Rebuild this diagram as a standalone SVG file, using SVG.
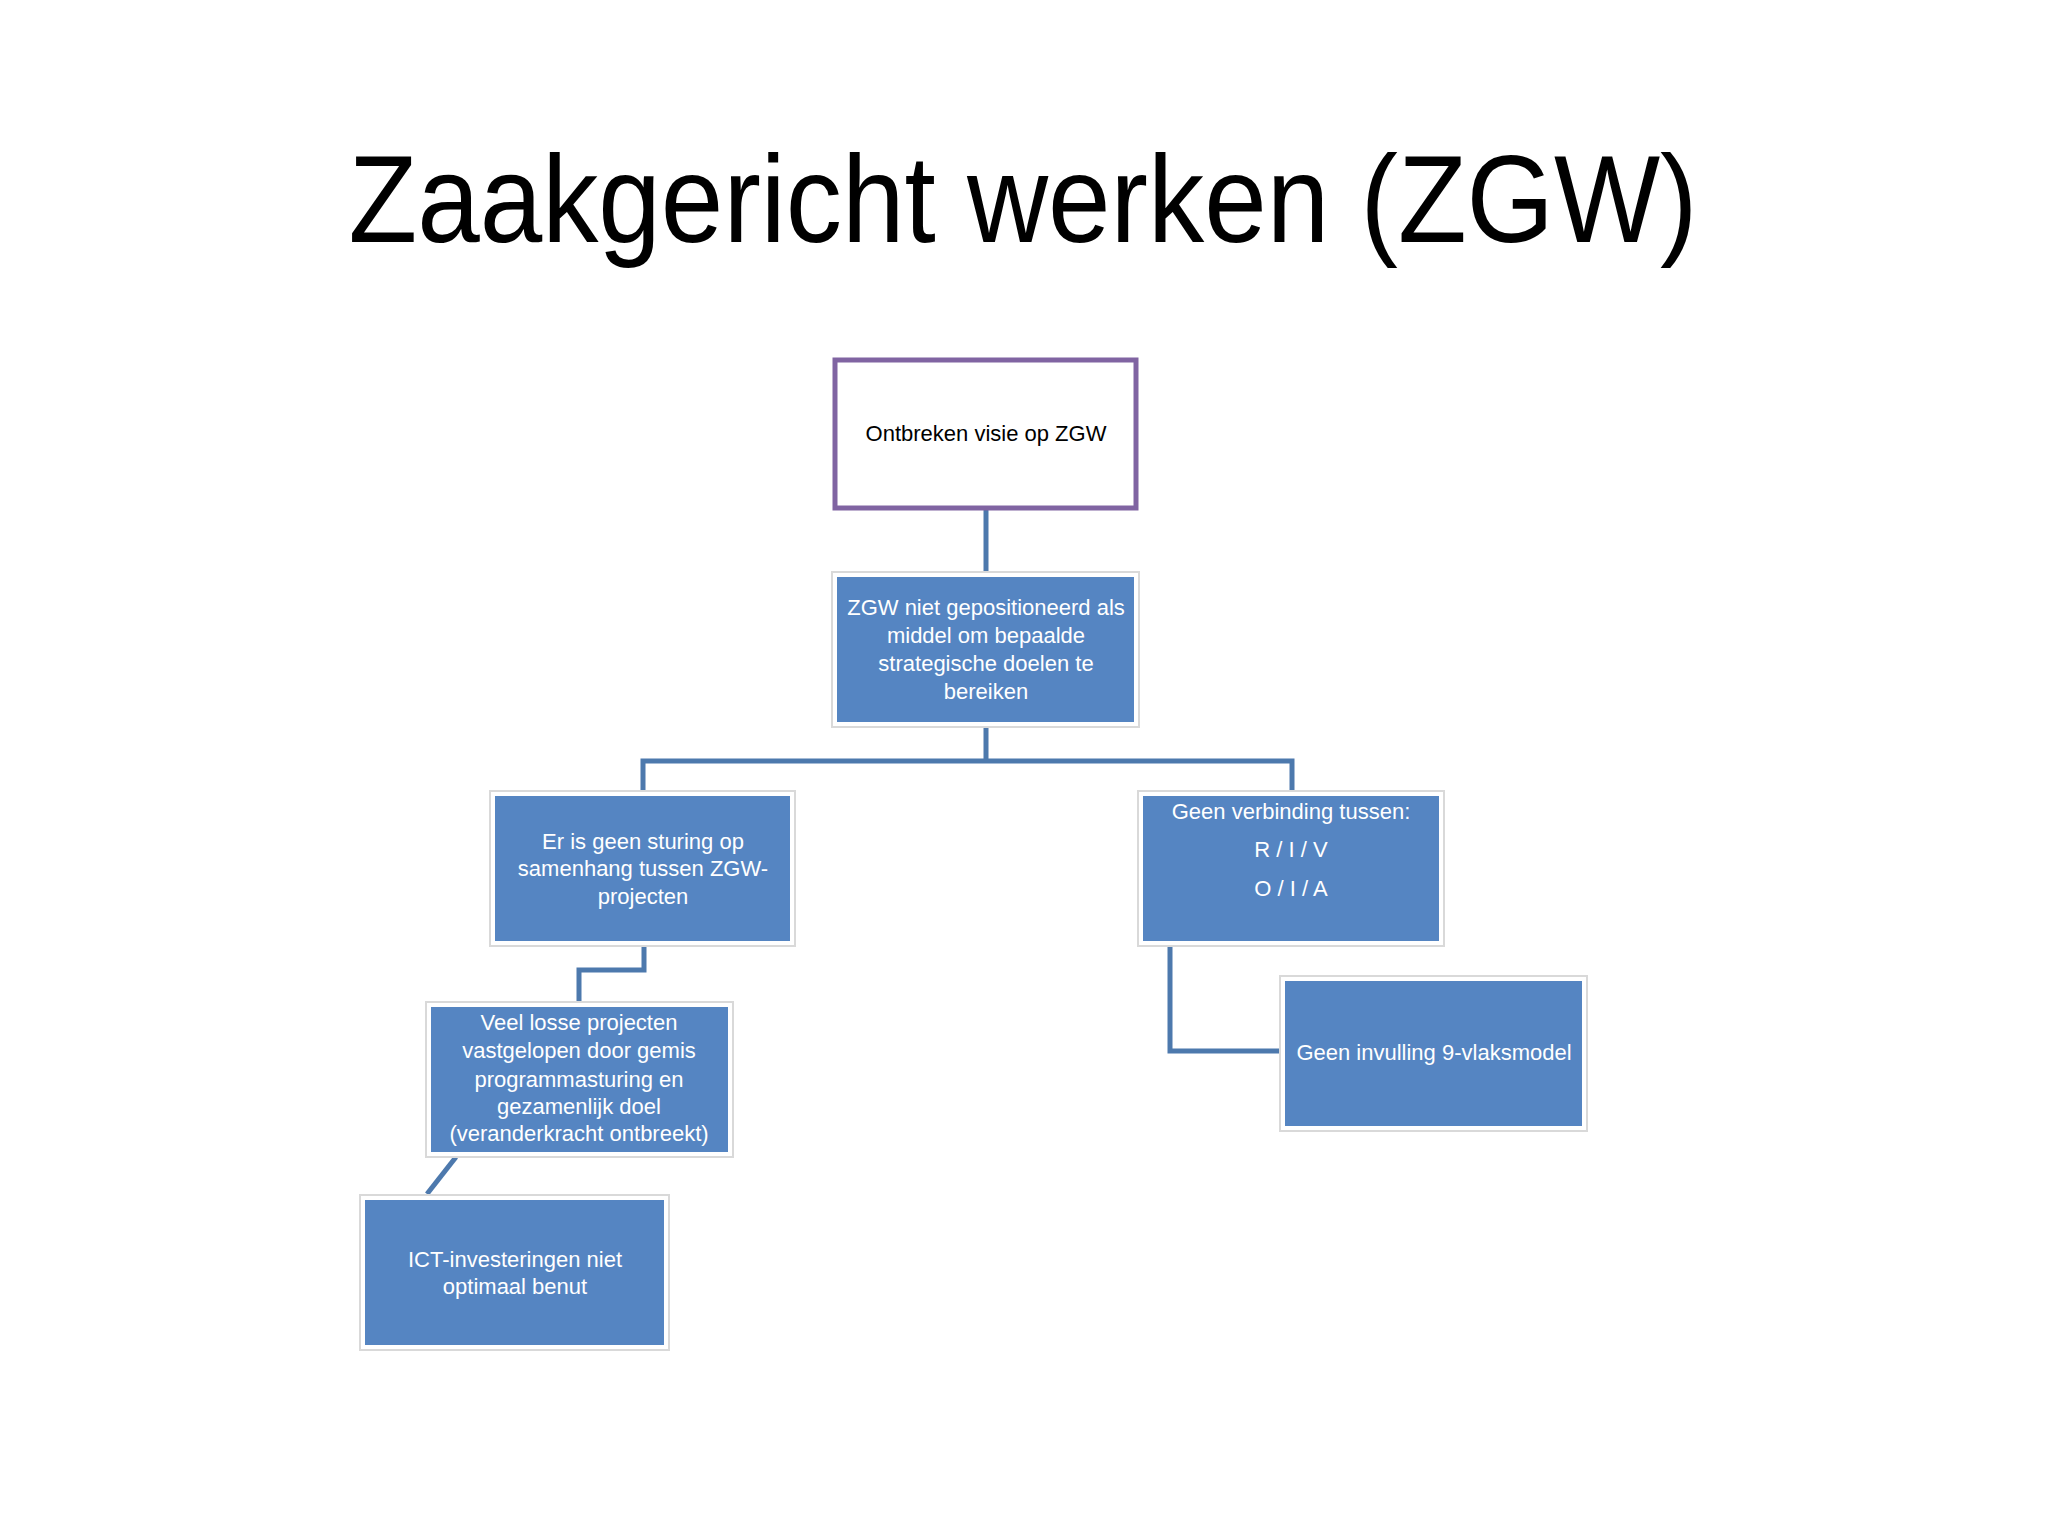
<svg xmlns="http://www.w3.org/2000/svg" width="2048" height="1536" viewBox="0 0 2048 1536">
<style>
.frame{fill:#ffffff;stroke:#d9d9d9;stroke-width:2}
.fill{fill:#5585c2}
.t{font-family:"Liberation Sans",Arial,sans-serif;font-size:22px;fill:#ffffff;text-anchor:middle}
.c{fill:none;stroke:#4d79ad;stroke-width:5}
</style>
<rect width="2048" height="1536" fill="#ffffff"/>
<text x="1023" y="242" font-family="Liberation Sans,Arial,sans-serif" font-size="125" text-anchor="middle" textLength="1349" lengthAdjust="spacingAndGlyphs" fill="#000">Zaakgericht werken (ZGW)</text>
<g id="connectors">
<path class="c" d="M986 509V572"/>
<path class="c" d="M986 727V761M643 791V761H1292V791"/>
<path class="c" d="M644 946V970H579V1002"/>
<path class="c" d="M456 1157L427 1194"/>
<path class="c" d="M1170 946V1051H1280"/>
</g>
<g id="n1">
<rect x="835" y="360" width="301" height="148" fill="#fff" stroke="#8064a2" stroke-width="5"/>
<text class="t" x="986" y="441" fill="#000" style="fill:#000">Ontbreken visie op ZGW</text>
</g>
<g id="n2">
<rect class="frame" x="832" y="572" width="307" height="155"/>
<rect class="fill" x="837" y="577" width="297" height="145"/>
<text class="t" x="986" y="615">ZGW niet gepositioneerd als</text>
<text class="t" x="986" y="643">middel om bepaalde</text>
<text class="t" x="986" y="671">strategische doelen te</text>
<text class="t" x="986" y="699">bereiken</text>
</g>
<g id="n3">
<rect class="frame" x="490" y="791" width="305" height="155"/>
<rect class="fill" x="495" y="796" width="295" height="145"/>
<text class="t" x="643" y="849">Er is geen sturing op</text>
<text class="t" x="643" y="876">samenhang tussen ZGW-</text>
<text class="t" x="643" y="904">projecten</text>
</g>
<g id="n4">
<rect class="frame" x="1138" y="791" width="306" height="155"/>
<rect class="fill" x="1143" y="796" width="296" height="145"/>
<text class="t" x="1291" y="819">Geen verbinding tussen:</text>
<text class="t" x="1291" y="857">R / I / V</text>
<text class="t" x="1291" y="896">O / I / A</text>
</g>
<g id="n5">
<rect class="frame" x="426" y="1002" width="307" height="155"/>
<rect class="fill" x="431" y="1007" width="297" height="145"/>
<text class="t" x="579" y="1030">Veel losse projecten</text>
<text class="t" x="579" y="1058">vastgelopen door gemis</text>
<text class="t" x="579" y="1087">programmasturing en</text>
<text class="t" x="579" y="1114">gezamenlijk doel</text>
<text class="t" x="579" y="1141">(veranderkracht ontbreekt)</text>
</g>
<g id="n6">
<rect class="frame" x="360" y="1195" width="309" height="155"/>
<rect class="fill" x="365" y="1200" width="299" height="145"/>
<text class="t" x="515" y="1267">ICT-investeringen niet</text>
<text class="t" x="515" y="1294">optimaal benut</text>
</g>
<g id="n7">
<rect class="frame" x="1280" y="976" width="307" height="155"/>
<rect class="fill" x="1285" y="981" width="297" height="145"/>
<text class="t" x="1434" y="1060">Geen invulling 9-vlaksmodel</text>
</g>
</svg>
